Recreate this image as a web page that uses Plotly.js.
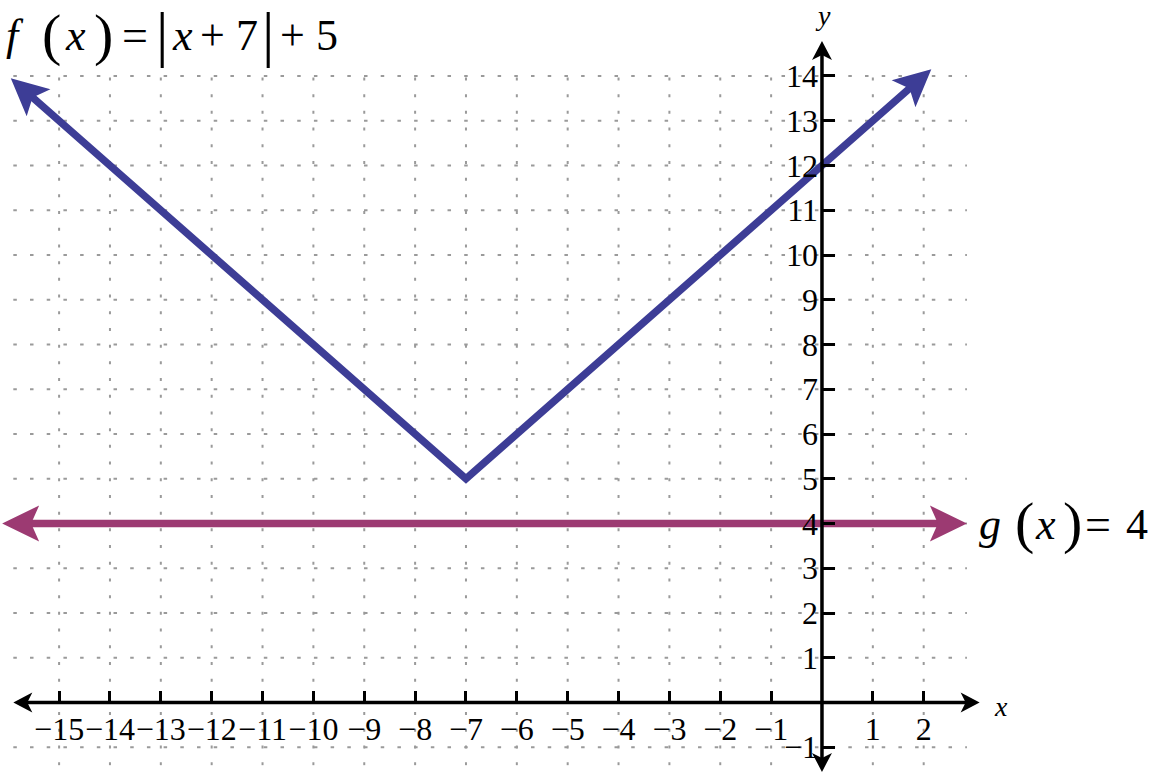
<!DOCTYPE html>
<html>
<head>
<meta charset="utf-8">
<script src="https://cdn.plot.ly/plotly-3.0.1.min.js"></script>
<style>html,body{margin:0;padding:0;background:#fff;}#chart{width:1155px;height:773px;}</style>
</head>
<body>
<div id="chart"></div>
<script>
// ---- data ----
var fX = [-15.95, -7, 2.15];
var fY = [13.95, 5, 14.15];
var gX = [-16.12, 2.85];
var gY = [4, 4];
var xTickVals = [-15,-14,-13,-12,-11,-10,-9,-8,-7,-6,-5,-4,-3,-2,-1,1,2];
var xTickText = ['\u221215','\u221214','\u221213','\u221212','\u221211','\u221210','\u22129','\u22128','\u22127','\u22126','\u22125','\u22124','\u22123','\u22122','\u22121','1','2'];
var yTickVals = [-1,1,2,3,4,5,6,7,8,9,10,11,12,13,14];
var yTickText = ['\u22121','1','2','3','4','5','6','7','8','9','10','11','12','13','14'];
var gridX = [-15,-14,-13,-12,-11,-10,-9,-8,-7,-6,-5,-4,-3,-2,-1,1,2];
var gridY = [-1,1,2,3,4,5,6,7,8,9,10,11,12,13,14];

// ---- layout geometry ----
var W = 1155, H = 773;
var xRange = [-16.162, 6.548];
var yRange = [-1.575, 15.698];
var sx = W / (xRange[1] - xRange[0]);
var sy = H / (yRange[1] - yRange[0]);

var BLUE = '#3d3d96', PURPLE = '#9c3a72';

function toPx(x, y){ return [(x - xRange[0]) * sx, (yRange[1] - y) * sy]; }
function toData(px, py){ return [px / sx + xRange[0], yRange[1] - py / sy]; }

function headShape(tx, ty, fx, fy, len, hw, notch, color){
  var t = toPx(tx, ty), f = toPx(fx, fy);
  var dx = t[0]-f[0], dy = t[1]-f[1], L = Math.sqrt(dx*dx+dy*dy);
  dx/=L; dy/=L; var nx = -dy, ny = dx;
  var pts = [
    [t[0], t[1]],
    [t[0]-dx*len+nx*hw, t[1]-dy*len+ny*hw],
    [t[0]-dx*notch, t[1]-dy*notch],
    [t[0]-dx*len-nx*hw, t[1]-dy*len-ny*hw]
  ].map(function(p){ return toData(p[0], p[1]); });
  var path = 'M' + pts.map(function(p){return p[0]+','+p[1];}).join('L') + 'Z';
  return {type:'path', xref:'x', yref:'y', path:path, fillcolor:color, line:{width:0}, layer:'above'};
}
function backoff(tx, ty, fx, fy, px){
  var t = toPx(tx, ty), f = toPx(fx, fy);
  var dx = t[0]-f[0], dy = t[1]-f[1], L = Math.sqrt(dx*dx+dy*dy);
  return toData(t[0]-dx/L*px, t[1]-dy/L*px);
}

var shapes = [];
gridX.forEach(function(v){
  shapes.push({type:'line', xref:'x', yref:'y', x0:v, x1:v, y0:-1.4, y1:14.2, layer:'below',
    line:{color:'#9a9a9a', width:2, dash:'3px,13.7px'}});
});
gridY.forEach(function(v){
  shapes.push({type:'line', xref:'x', yref:'y', x0:-15.9, x1:2.85, y0:v, y1:v, layer:'below',
    line:{color:'#9a9a9a', width:2, dash:'3.5px,13.2px'}});
});
// axes lines
var axX = [-15.9, 3.1], axY = [-1.55, 14.78];
var a0 = backoff(axX[0], 0, axX[1], 0, 10), a1 = backoff(axX[1], 0, axX[0], 0, 10);
shapes.push({type:'line', xref:'x', yref:'y', x0:a0[0], x1:a1[0], y0:0, y1:0, line:{color:'#000', width:3.5}, layer:'above'});
var b0 = backoff(0, axY[0], 0, axY[1], 10), b1 = backoff(0, axY[1], 0, axY[0], 10);
shapes.push({type:'line', xref:'x', yref:'y', x0:0, x1:0, y0:b0[1], y1:b1[1], line:{color:'#000', width:3.5}, layer:'above'});
shapes.push(headShape(axX[0], 0, axX[1], 0, 19, 10, 14, '#000'));
shapes.push(headShape(axX[1], 0, axX[0], 0, 19, 10, 14, '#000'));
shapes.push(headShape(0, axY[0], 0, axY[1], 19, 10, 14, '#000'));
shapes.push(headShape(0, axY[1], 0, axY[0], 19, 10, 14, '#000'));

// function arrowheads
var nF = fX.length;
shapes.push(headShape(fX[0], fY[0], fX[1], fY[1], 37, 18, 29, BLUE));
shapes.push(headShape(fX[nF-1], fY[nF-1], fX[nF-2], fY[nF-2], 37, 18, 29, BLUE));
shapes.push(headShape(gX[0], gY[0], gX[1], gY[1], 37, 18, 29, PURPLE));
shapes.push(headShape(gX[1], gY[1], gX[0], gY[0], 37, 18, 29, PURPLE));

// backed-off line ends
var fXl = fX.slice(), fYl = fY.slice();
var s0 = backoff(fX[0], fY[0], fX[1], fY[1], 25); fXl[0]=s0[0]; fYl[0]=s0[1];
var s1 = backoff(fX[nF-1], fY[nF-1], fX[nF-2], fY[nF-2], 25); fXl[nF-1]=s1[0]; fYl[nF-1]=s1[1];
var gXl = gX.slice(), gYl = gY.slice();
var t0 = backoff(gX[0], gY[0], gX[1], gY[1], 25); gXl[0]=t0[0];
var t1 = backoff(gX[1], gY[1], gX[0], gY[0], 25); gXl[1]=t1[0];

var traces = [
  {x:gXl, y:gYl, mode:'lines', line:{color:PURPLE, width:7.5}, hoverinfo:'skip', cliponaxis:false},
  {x:fXl, y:fYl, mode:'lines', line:{color:BLUE, width:7.5}, hoverinfo:'skip', cliponaxis:false}
];

var serif = 'Liberation Serif';
// label pieces: [text, size, dx(px from label start), dy]
function pieces(list, x0px, cyPx){
  var out = [];
  list.forEach(function(p){
    out.push({xref:'paper', yref:'paper', x:(x0px + p[2]) / W, y:1 - (cyPx + (p[3]||0)) / H,
      xanchor:'left', yanchor:'middle', showarrow:false, text:p[0],
      font:{family:serif, size:p[1], color:'#000'}});
  });
  return out;
}
var fLabel = pieces([
  ['<i>f</i>', 44, 0],
  ['(', 58, 36, -2],
  ['<i>x</i>', 44, 59],
  [')', 58, 88, -2],
  ['=', 46, 116],
  ['|', 62, 150, -2],
  ['<i>x</i>', 44, 166],
  ['+', 44, 194],
  ['7', 44, 230],
  ['|', 62, 256, -2],
  ['+', 44, 274],
  ['5', 44, 310]
], 4, 36);
var gLabel = pieces([
  ['<i>g</i>', 44, 0],
  ['(', 58, 36, -2],
  ['<i>x</i>', 44, 56],
  [')', 58, 84, -2],
  ['=', 46, 106],
  ['4', 44, 147]
], 977, 524);

var annotations = fLabel.concat(gLabel).concat([
  {xref:'x', yref:'y', x:3.52, y:-0.08, xanchor:'center', yanchor:'middle', showarrow:false,
   text:'<i>x</i>', font:{family:serif, size:28, color:'#000'}},
  {xref:'x', yref:'y', x:0.02, y:15.36, xanchor:'center', yanchor:'middle', showarrow:false,
   text:'<i>y</i>', font:{family:serif, size:28, color:'#000'}}
]);

var xPos = (0 - yRange[0]) / (yRange[1] - yRange[0]);
var yPos = (0 - xRange[0]) / (xRange[1] - xRange[0]);

var layout = {
  width:W, height:H, margin:{l:0, r:0, t:0, b:0, pad:0},
  paper_bgcolor:'#fff', plot_bgcolor:'#fff', showlegend:false,
  font:{family:serif},
  xaxis:{range:xRange, anchor:'free', position:xPos, side:'bottom', showgrid:false, zeroline:false, showline:false,
    ticks:'inside', ticklen:12, tickwidth:3, tickcolor:'#000', tickvals:xTickVals, ticktext:xTickText, tickangle:0,
    tickfont:{family:serif, size:32, color:'#000'}, ticklabelstandoff:4, fixedrange:true},
  yaxis:{range:yRange, anchor:'free', position:yPos, side:'left', showgrid:false, zeroline:false, showline:false,
    ticks:'inside', ticklen:12, tickwidth:3, tickcolor:'#000', tickvals:yTickVals, ticktext:yTickText,
    tickfont:{family:serif, size:32, color:'#000'}, ticklabelstandoff:4, fixedrange:true},
  shapes:shapes, annotations:annotations
};
Plotly.newPlot('chart', traces, layout, {displayModeBar:false, staticPlot:true});
</script>
</body>
</html>
